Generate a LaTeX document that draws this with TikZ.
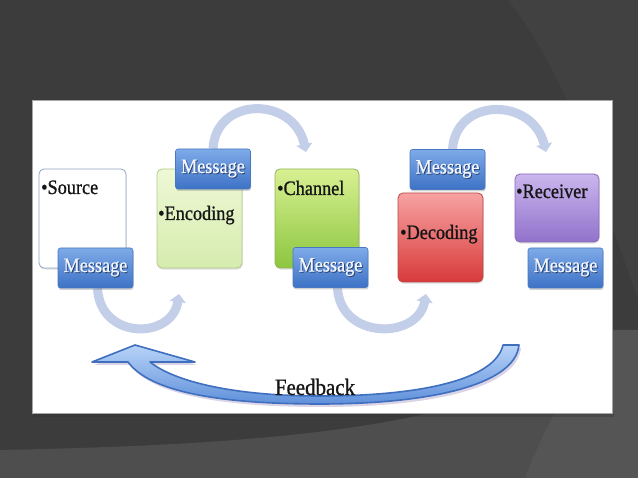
\documentclass[tikz,border=0pt]{standalone}
\usepackage{fontspec}
\setmainfont{Liberation Serif}
\newfontfamily\cfont[FakeStretch=0.89,FakeBold=0.9]{Liberation Serif}
\usetikzlibrary{arrows.meta,shadows}
\definecolor{bgbase}{HTML}{3C3C3C}
\definecolor{bgtr}{HTML}{414141}
\definecolor{bglow}{HTML}{4E4E4E}
\definecolor{bglow2}{HTML}{555555}
\definecolor{msgtop}{HTML}{7EAAE8}
\definecolor{msgbot}{HTML}{3D72C6}
\definecolor{msgborder}{HTML}{4A78C0}
\definecolor{msgtext}{HTML}{F2F6FF}
\definecolor{msgshadow}{HTML}{27406E}
\definecolor{srcborder}{HTML}{8EA4C0}
\definecolor{enctop}{HTML}{EEF8D6}
\definecolor{encbot}{HTML}{D6ECAE}
\definecolor{encborder}{HTML}{B4C98C}
\definecolor{chantop}{HTML}{D8F092}
\definecolor{chanbot}{HTML}{8CC63F}
\definecolor{chanborder}{HTML}{93B458}
\definecolor{dectop}{HTML}{F7A2A2}
\definecolor{decbot}{HTML}{D83A3A}
\definecolor{decborder}{HTML}{B84848}
\definecolor{rectop}{HTML}{CBB6EE}
\definecolor{recbot}{HTML}{9172CC}
\definecolor{recborder}{HTML}{8868B8}
\definecolor{arccol}{HTML}{C3CFE9}
\definecolor{fbtop}{HTML}{B8D3F8}
\definecolor{fbbot}{HTML}{5F90DA}
\definecolor{fbborder}{HTML}{3F6FBF}
\definecolor{fbshadow}{HTML}{DAD4E6}
\definecolor{labeltext}{HTML}{151515}
\newcommand\shadowed[1]{\rlap{\kern0.9pt\raisebox{-0.9pt}{\textcolor{msgshadow}{#1}}}#1}
\pgfdeclarelayer{bg}
\pgfdeclarelayer{arcs}
\pgfsetlayers{bg,arcs,main}
\begin{document}
\begin{tikzpicture}[x=1pt,y=-1pt,
  boxbase/.style={rounded corners=5pt, line width=0.8pt, inner sep=0pt,
    drop shadow={opacity=0.25, shadow xshift=0.6pt, shadow yshift=-1.6pt}},
  msgbox/.style={draw=msgborder, line width=0.6pt, rounded corners=2.5pt,
    top color=msgtop, bottom color=msgbot, minimum width=75pt, minimum height=40pt,
    inner sep=0pt, text=msgtext, font=\cfont\fontsize{20.5}{20.5}\selectfont,
    drop shadow={opacity=0.35, shadow xshift=0.6pt, shadow yshift=-2pt}},
  lbl/.style={anchor=base west, inner sep=0pt, text=labeltext,
    font=\cfont\fontsize{20.5}{20.5}\selectfont},
  arcar/.style={draw=arccol, line width=9pt, -{Triangle[width=16pt,length=8pt]}}
]
\useasboundingbox (0,0) rectangle (638,478);
\begin{pgfonlayer}{bg}
  \fill[bgbase] (0,0) rectangle (638,478);
  \fill[bgtr] (508,0) .. controls (535,35) and (555,70) .. (575,120) -- (638,300) -- (638,0) -- cycle;
  \fill[bglow] (0,450) .. controls (150,447) and (330,440) .. (450,408) -- (638,330) -- (638,478) -- (0,478) -- cycle;
  \fill[bglow2] (600,330) .. controls (560,400) and (535,450) .. (525,478) -- (638,478) -- (638,330) -- cycle;
  \fill[black!80, opacity=0.35] (34,413) rectangle (614,417);
  \filldraw[fill=white, draw=gray!70, line width=0.8pt] (32,100) rectangle (612,413);
\end{pgfonlayer}

% boxes
\node[boxbase, draw=srcborder, fill=white, minimum width=87pt, minimum height=99pt] (src) at (82.5,218.5) {};
\node[boxbase, draw=encborder, top color=enctop, bottom color=encbot, minimum width=85pt, minimum height=99pt] (enc) at (199.5,218.5) {};
\node[boxbase, draw=chanborder, top color=chantop, bottom color=chanbot, minimum width=84pt, minimum height=99pt] (chan) at (317,218.5) {};
\node[boxbase, draw=decborder, top color=dectop, bottom color=decbot, minimum width=85pt, minimum height=89pt] (dec) at (440.5,237.5) {};
\node[boxbase, draw=recborder, top color=rectop, bottom color=recbot, minimum width=84pt, minimum height=68pt] (rec) at (557,208) {};

% labels
\node[lbl] (srclbl) at (41,194) {•Source};
\node[lbl] (enclbl) at (158,220) {•Encoding};
\node[lbl] (chanlbl) at (277,195) {•Channel};
\node[lbl] (declbl) at (400,239) {•Decoding};
\node[lbl] (reclbl) at (516,198) {•Receiver};

% message boxes
\node[msgbox] (srcmsg) at (95.5,268) {\shadowed{Message}};
\node[msgbox] (encmsg) at (213,169) {\shadowed{Message}};
\node[msgbox] (chanmsg) at (330.5,267.5) {\shadowed{Message}};
\node[msgbox] (decmsg) at (447.5,169.5) {\shadowed{Message}};
\node[msgbox] (recmsg) at (565.5,268) {\shadowed{Message}};

% arc ends
\coordinate (a1e) at (306,152);
\coordinate (a2e) at (546,152);
\coordinate (b1e) at (179,294);
\coordinate (b2e) at (426,294);

\begin{pgfonlayer}{arcs}
  \draw[arcar] (encmsg.north) .. controls (216,96) and (294,96) .. (a1e);
  \draw[arcar] ([xshift=5pt]decmsg.north) .. controls (456,97) and (533,97) .. (a2e);
  \draw[arcar] ([xshift=2pt]srcmsg.south) .. controls (100,340) and (172,340) .. (b1e);
  \draw[arcar] ([xshift=7pt]chanmsg.south) .. controls (340,340) and (418,340) .. (b2e);

  % feedback block arrow
  \fill[fbshadow] (505,348) -- (521,348)
    .. controls (517,388) and (432,407) .. (322,407)
    .. controls (222,407) and (152,395) .. (130,365)
    -- (94,365) -- (137,348) -- (197,365) -- (152,365)
    .. controls (177,385) and (237,399) .. (322,399)
    .. controls (422,399) and (497,383) .. (505,348) -- cycle;
  \draw[fbborder, line width=1.6pt, line join=round, top color=fbtop, bottom color=fbbot]
    (503,345) -- (519,345)
    .. controls (515,385) and (430,404) .. (320,404)
    .. controls (220,404) and (150,392) .. (128,362)
    -- (92,362) -- (135,345) -- (195,362) -- (150,362)
    .. controls (175,382) and (235,396) .. (320,396)
    .. controls (420,396) and (495,380) .. (503,345) -- cycle;
\end{pgfonlayer}

\node[inner sep=0pt, text=labeltext, font=\cfont\fontsize{23.5}{23.5}\selectfont, anchor=base] (fb) at (315,395) {Feedback};
\end{tikzpicture}
\end{document}
